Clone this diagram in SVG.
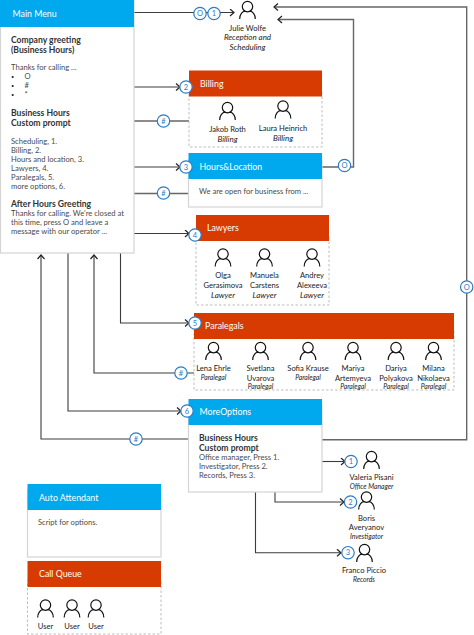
<svg xmlns="http://www.w3.org/2000/svg" xmlns:xlink="http://www.w3.org/1999/xlink" width="474" height="635" viewBox="0 0 474 635">
<style>
text{font-family:"Lato","Open Sans","Liberation Sans",sans-serif;font-size:7.6px;fill:#222}
.h{font-size:8.8px;fill:#fff}
.b{font-size:8.6px;font-weight:700;fill:#333}
.t{fill:#4a4a4a}
.c{text-anchor:middle}
.i{font-style:italic;font-size:8px}
.s{font-style:italic;font-size:6.8px}
.n{font-size:7.5px;fill:#2b7cc4;text-anchor:middle}
.blue{fill:#00a9ee}
.red{fill:#d83b01}
.box{fill:#fff;stroke:#d4d4d4;stroke-width:1.2}
.dash{fill:#fff;stroke:#bdbdbd;stroke-width:1;stroke-dasharray:2.5 2}
.l{fill:none;stroke:#3c3c3c;stroke-width:1.1}
.g{fill:none;stroke:#666;stroke-width:1.4}
.p{fill:none;stroke:#111;stroke-width:1.2}
.num{fill:#fff;stroke:#2b7cc4;stroke-width:1.2}
</style>
<defs>
<marker id="arrow" markerWidth="8" markerHeight="10" refX="6" refY="4" orient="auto" markerUnits="userSpaceOnUse"><path d="M2,0.5L6,4L2,7.5" fill="none" stroke="#222" stroke-width="1.2"/></marker>
<g id="person"><circle cx="0" cy="5.6" r="5.2" class="p"/><path class="p" d="M-7.8,18C-7.8,13,-5,10.4,-2.5,10.2M7.8,18C7.8,13,5,10.4,2.5,10.2"/></g>
<g id="dot"><circle r="6.2" class="num"/></g>
</defs>

<g id="connectors">
<path class="l" d="M134,12.5H234" marker-end="url(#arrow)"/>
<path class="l" d="M134,87H180" marker-end="url(#arrow)"/>
<path class="g" d="M134,121H189"/>
<path class="l" d="M134,167H180" marker-end="url(#arrow)"/>
<path class="g" d="M134,193.5H189"/>
<path class="l" d="M134,233.5H189" marker-end="url(#arrow)"/>
<path class="l" d="M120.5,253V323H189" marker-end="url(#arrow)"/>
<path class="l" d="M194,373H94V255" marker-end="url(#arrow)"/>
<path class="l" d="M68,253V411H181" marker-end="url(#arrow)"/>
<path class="l" d="M189,439H41V255" marker-end="url(#arrow)"/>
<path class="g" d="M322,439.7H466.7V7H274" marker-end="url(#arrow)"/>
<path class="g" d="M322,167H353.5V19.5H278" marker-end="url(#arrow)"/>
<path class="l" d="M322,461.5H345" marker-end="url(#arrow)"/>
<path class="l" d="M275,492V502H344" marker-end="url(#arrow)"/>
<path class="l" d="M255.5,492V552.7H341" marker-end="url(#arrow)"/>
</g>

<g id="main-menu">
<rect class="box" x="0.5" y="1" width="133.5" height="252"/>
<rect class="blue" x="0" y="0" width="134" height="27"/>
<text class="h" x="12.5" y="17">Main Menu</text>
<text class="b" x="11" y="42.5">Company greeting</text>
<text class="b" x="11" y="52.5">(Business Hours)</text>
<text class="t" x="11" y="70">Thanks for calling ...</text>
<circle cx="12.7" cy="77" r="1.1" fill="#222"/><circle cx="12.7" cy="86" r="1.1" fill="#222"/><circle cx="12.7" cy="95" r="1.1" fill="#222"/>
<text class="t" x="24.5" y="79">O</text><text class="t" x="24.5" y="87.5">#</text><text class="t" x="24.5" y="96.5">*</text>
<text class="b" x="11" y="116">Business Hours</text>
<text class="b" x="11" y="126">Custom prompt</text>
<text class="t" x="11" y="144">Scheduling,  1.</text>
<text class="t" x="11" y="153">Billing,  2.</text>
<text class="t" x="11" y="162">Hours and location, 3.</text>
<text class="t" x="11" y="171">Lawyers, 4.</text>
<text class="t" x="11" y="180">Paralegals, 5.</text>
<text class="t" x="11" y="189">more options, 6.</text>
<text class="b" x="11" y="207">After Hours Greeting</text>
<text class="t" x="11" y="216">Thanks for calling. We're closed at</text>
<text class="t" x="11" y="225">this time, press O and leave a</text>
<text class="t" x="11" y="234">message with our operator ...</text>
</g>

<g id="julie">
<use href="#person" x="247.5" y="1"/>
<text class="c" x="247.5" y="30.5">Julie Wolfe</text>
<text class="c i" x="247.5" y="40">Reception and</text>
<text class="c i" x="247.5" y="50">Scheduling</text>
</g>

<g id="billing">
<rect class="dash" x="189" y="90" width="133" height="57"/>
<rect class="red" x="189" y="70.5" width="133" height="26"/>
<text class="h" x="200" y="87">Billing</text>
<use href="#person" x="227.5" y="102"/>
<text class="c" x="227.5" y="131.5">Jakob Roth</text>
<text class="c i" x="227.5" y="141.5">Billing</text>
<use href="#person" x="283" y="100.5"/>
<text class="c" x="283" y="130.5">Laura Heinrich</text>
<text class="c i" x="283" y="140.5">Billing</text>
</g>

<g id="hours-location">
<rect class="box" x="188.5" y="160" width="133.5" height="47"/>
<rect class="blue" x="188.5" y="153" width="133.5" height="26"/>
<text class="h" x="199.5" y="169.5">Hours&amp;Location</text>
<text class="t" x="199" y="194">We are open for business from ...</text>
</g>

<g id="lawyers">
<rect class="dash" x="196" y="235" width="133" height="70"/>
<rect class="red" x="196" y="215" width="133" height="26"/>
<text class="h" x="207" y="231">Lawyers</text>
<use href="#person" x="223" y="248.5"/>
<text class="c" x="223" y="278">Olga</text><text class="c" x="223" y="288">Gerasimova</text><text class="c i" x="223" y="298">Lawyer</text>
<use href="#person" x="264.5" y="248.5"/>
<text class="c" x="264.5" y="278">Manuela</text><text class="c" x="264.5" y="288">Carstens</text><text class="c i" x="264.5" y="298">Lawyer</text>
<use href="#person" x="312" y="248.5"/>
<text class="c" x="312" y="278">Andrey</text><text class="c" x="312" y="288">Alexeeva</text><text class="c i" x="312" y="298">Lawyer</text>
</g>

<g id="paralegals">
<rect class="dash" x="194" y="330" width="260" height="60"/>
<rect class="red" x="194" y="313" width="260" height="26"/>
<text class="h" x="205" y="329">Paralegals</text>
<use href="#person" x="213.5" y="342"/>
<text class="c" x="213.5" y="371">Lena Ehrle</text><text class="c s" x="213.5" y="379.5">Paralegal</text>
<use href="#person" x="260.5" y="342"/>
<text class="c" x="260.5" y="371">Svetlana</text><text class="c" x="260.5" y="381">Uvarova</text><text class="c s" x="260.5" y="389">Paralegal</text>
<use href="#person" x="308" y="342"/>
<text class="c" x="308" y="371">Sofia Krause</text><text class="c s" x="308" y="379.5">Paralegal</text>
<use href="#person" x="353" y="342"/>
<text class="c" x="353" y="371">Mariya</text><text class="c" x="353" y="381">Artemyeva</text><text class="c s" x="353" y="389">Paralegal</text>
<use href="#person" x="396" y="342"/>
<text class="c" x="396" y="371">Dariya</text><text class="c" x="396" y="381">Polyakova</text><text class="c s" x="396" y="389">Paralegal</text>
<use href="#person" x="433.5" y="342"/>
<text class="c" x="433.5" y="371">Milana</text><text class="c" x="433.5" y="381">Nikolaeva</text><text class="c s" x="433.5" y="389">Paralegal</text>
</g>

<g id="more-options">
<rect class="box" x="188.5" y="405" width="133.5" height="87"/>
<rect class="blue" x="188.5" y="399" width="133.5" height="26"/>
<text class="h" x="199.5" y="415">MoreOptions</text>
<text class="b" x="199" y="440.5">Business Hours</text>
<text class="b" x="199" y="450.5">Custom prompt</text>
<text class="t" x="199" y="459.5">Office manager, Press 1.</text>
<text class="t" x="199" y="468.5">Investigator, Press 2.</text>
<text class="t" x="199" y="477.5">Records, Press 3.</text>
</g>

<g id="valeria">
<use href="#person" x="371.5" y="451"/>
<text class="c" x="371.5" y="480">Valeria Pisani</text><text class="c s" x="371.5" y="488.5">Office Manager</text>
</g>
<g id="boris">
<use href="#person" x="366.5" y="491.5"/>
<text class="c" x="366.5" y="520.5">Boris</text><text class="c" x="366.5" y="530">Averyanov</text><text class="c s" x="366.5" y="538.5">Investigator</text>
</g>
<g id="franco">
<use href="#person" x="364.5" y="544"/>
<text class="c" x="364" y="573">Franco Piccio</text><text class="c s" x="364" y="581.5">Records</text>
</g>

<g id="auto-attendant">
<rect class="box" x="27.5" y="490" width="133.5" height="67"/>
<rect class="blue" x="27.5" y="484" width="133.5" height="26"/>
<text class="h" x="39" y="501">Auto Attendant</text>
<text class="t" x="38" y="525">Script for options.</text>
</g>

<g id="call-queue">
<rect class="dash" x="27.5" y="580" width="133.5" height="54"/>
<rect class="red" x="27.5" y="561" width="133.5" height="26"/>
<text class="h" x="39" y="577">Call Queue</text>
<use href="#person" x="45.5" y="599.5"/><text class="c" x="45.5" y="629">User</text>
<use href="#person" x="72" y="599.5"/><text class="c" x="72" y="629">User</text>
<use href="#person" x="96" y="599.5"/><text class="c" x="96" y="629">User</text>
</g>

<g id="badges">
<use href="#dot" x="200" y="13.5"/><text class="n" x="200" y="16">O</text>
<use href="#dot" x="214" y="13.5"/><text class="n" x="214" y="16">1</text>
<use href="#dot" x="186" y="87"/><text class="n" x="186" y="89.6">2</text>
<use href="#dot" x="163.5" y="121"/><text class="n" x="163.5" y="123.6">#</text>
<use href="#dot" x="186" y="167"/><text class="n" x="186" y="169.6">3</text>
<use href="#dot" x="163.5" y="193"/><text class="n" x="163.5" y="195.6">#</text>
<use href="#dot" x="344.5" y="165.5"/><text class="n" x="344.5" y="168">O</text>
<use href="#dot" x="195" y="235"/><text class="n" x="195" y="237.6">4</text>
<use href="#dot" x="195" y="323"/><text class="n" x="195" y="325.6">5</text>
<use href="#dot" x="181" y="373"/><text class="n" x="181" y="375.6">#</text>
<use href="#dot" x="187" y="411"/><text class="n" x="187" y="413.6">6</text>
<use href="#dot" x="136" y="439"/><text class="n" x="136" y="441.6">#</text>
<use href="#dot" x="466.7" y="287"/><text class="n" x="466.7" y="289.6">O</text>
<use href="#dot" x="351" y="461.5"/><text class="n" x="351" y="464">1</text>
<use href="#dot" x="350.5" y="502"/><text class="n" x="350.5" y="504.6">2</text>
<use href="#dot" x="348" y="552.7"/><text class="n" x="348" y="555.3">3</text>
</g>
</svg>
